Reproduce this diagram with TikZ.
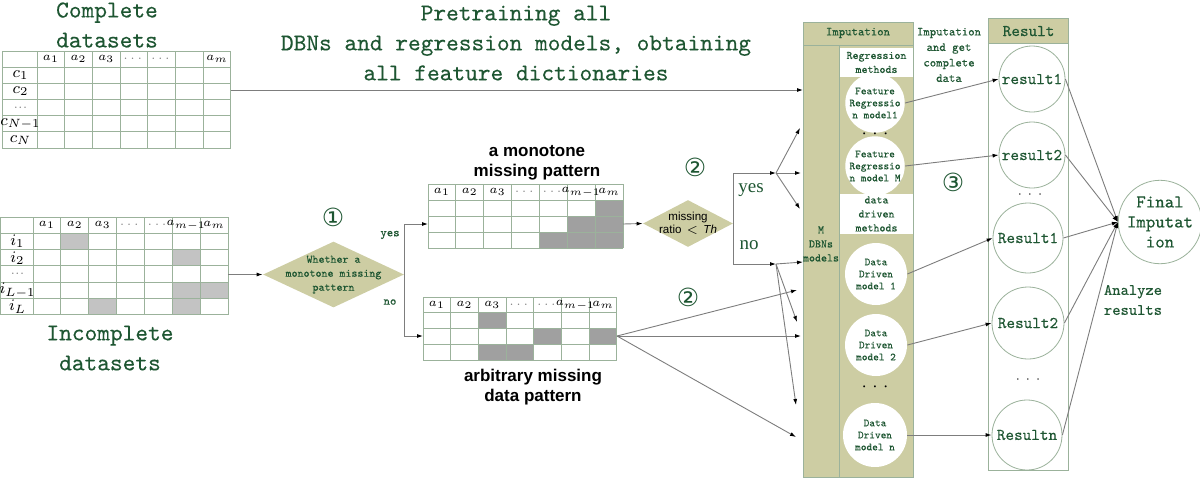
\documentclass[tikz,border=0pt]{standalone}
\usepackage{amsmath}
\usepackage{amssymb}
\usepackage{xcolor}
\usepackage{fontspec}
\setmainfont{Liberation Serif}
\setsansfont{Liberation Sans}
\setmonofont{lmmono10-regular.otf}[FakeBold=0.3]
\newfontfamily\circfont{DejaVu Sans}
\usetikzlibrary{arrows.meta,shapes.geometric,positioning}
\definecolor{dkgreen}{RGB}{30,86,50}
\definecolor{khaki}{RGB}{205,205,163}
\definecolor{gridgreen}{RGB}{155,178,155}
\definecolor{lightshade}{RGB}{195,195,195}
\definecolor{darkshade}{RGB}{160,160,160}
\definecolor{linegray}{RGB}{125,125,125}

\begin{document}
\begin{tikzpicture}[x=0.5pt,y=-0.5pt,
    gridline/.style={draw=gridgreen,line width=0.5pt},
    hdr/.style={inner sep=0pt,font=\fontsize{6.2}{7}\selectfont},
    rowlab/.style={inner sep=0pt,font=\fontsize{8.5}{9}\selectfont},
    bigtitle/.style={font=\ttfamily\fontsize{12.1}{15}\selectfont,text=dkgreen,align=center,inner sep=0pt},
    smalltxt/.style={font=\ttfamily\fontsize{5.7}{7}\selectfont,text=dkgreen,align=center,inner sep=0pt},
    boldtxt/.style={font=\sffamily\bfseries\fontsize{8.5}{10}\selectfont,align=center,inner sep=0pt},
    circnum/.style={font=\circfont\fontsize{12.5}{12.5}\selectfont,text=dkgreen,inner sep=0pt},
    decision/.style={diamond,fill=khaki,inner sep=0pt},
    barbox/.style={draw=gridgreen,line width=0.6pt,anchor=north west,inner sep=0pt},
    model/.style={circle,fill=white,inner sep=0pt,font=\ttfamily\fontsize{5.4}{6}\selectfont,text=dkgreen,align=center},
    res/.style={circle,draw=gridgreen,fill=white,inner sep=0pt,font=\ttfamily\fontsize{8.2}{9}\selectfont,text=dkgreen,align=center},
    dots/.style={inner sep=0pt,font=\fontsize{4}{4}\selectfont},
    conn/.style={draw=linegray,line width=0.45pt,-{Latex[length=3pt,width=2pt,color=black]}}]
    \useasboundingbox (0,0) rectangle (1200,478);

    % complete datasets
    \node[bigtitle] (cmp-title) at (107,25) {Complete\\datasets};
    \foreach \y in {0,...,6} \draw[gridline] (2,{51+\y*16.17}) -- (231,{51+\y*16.17});
    \draw[gridline] (2,51) -- (2,148);
    \foreach \i in {0,...,7} \draw[gridline] ({37+\i*27.71},51) -- ({37+\i*27.71},148);
    \foreach \t [count=\i] in {a_1,a_2,a_3,{\color{gray}\dots},{\color{gray}\dots},{},a_m}
        \node[hdr,font=\fontsize{6}{6}\selectfont] (cmp-h\i) at ({37+(\i-0.5)*27.71},59.1) {$\t$};
    \foreach \t [count=\i] in {c_1,c_2,{\textcolor{gray}{\scriptstyle\dots}},c_{N-1},c_N}
        \node[rowlab] (cmp-r\i) at (20.5,{51+(\i+0.5)*16.17}) {$\t$};
    \coordinate (cmp-out) at (231,90);

    % incomplete datasets
    \foreach \r/\c in {1/2,2/6,4/6,4/7,5/3,5/6}
        \fill[lightshade] ({33+(\c-1)*27.86},{217+\r*16.33}) rectangle ++(27.86,16.33);
    \foreach \y in {0,...,6} \draw[gridline] (0,{217+\y*16.33}) -- (228,{217+\y*16.33});
    \draw[gridline] (0.4,217) -- (0.4,315);
    \foreach \i in {0,...,7} \draw[gridline] ({33+\i*27.86},217) -- ({33+\i*27.86},315);
    \foreach \t [count=\i] in {a_1,a_2,a_3,{\color{gray}\dots},{\color{gray}\dots},a_{m-1},a_m}
        \node[hdr] (inc-h\i) at ({33+(\i-0.5)*27.86},225.2) {$\t$};
    \foreach \t [count=\i] in {i_1,i_2,{\textcolor{gray}{\scriptstyle\dots}},i_{L-1},i_L}
        \node[rowlab,font=\fontsize{8}{9}\selectfont] (inc-r\i) at (17.5,{217+(\i+0.5)*16.33}) {$\t$};
    \node[bigtitle] (inc-title) at (110,348) {Incomplete\\datasets};
    \coordinate (inc-out) at (228,274.5);

    % pretraining
    \node[bigtitle] (pre) at (516,43) {Pretraining all\\DBNs and regression models, obtaining\\all feature dictionaries};

    % first decision
    \node[decision,minimum width=70.5pt,minimum height=33pt] (chk) at (333.5,274.5) {};
    \node[smalltxt] (chk-txt) at (chk) {Whether a\\monotone missing\\pattern};
    \node[circnum] (n1) at (333,217) {①};
    \node[smalltxt,font=\ttfamily\fontsize{6.1}{6.5}\selectfont] (chk-yes) at (390,235) {yes};
    \node[smalltxt,font=\ttfamily\fontsize{6.1}{6.5}\selectfont] (chk-no) at (390,302) {no};

    % monotone pattern
    \node[boldtxt] (mt-title) at (537,163) {a monotone\\missing pattern};
    \foreach \r/\c in {1/7,2/6,2/7,3/5,3/6,3/7}
        \fill[darkshade] ({428+(\c-1)*27.86},{184+\r*16}) rectangle ++(27.86,16);
    \foreach \y in {0,...,4} \draw[gridline] (428,{184+\y*16}) -- (623,{184+\y*16});
    \foreach \i in {0,...,7} \draw[gridline] ({428+\i*27.86},184) -- ({428+\i*27.86},248);
    \foreach \t [count=\i] in {a_1,a_2,a_3,{\color{gray}\dots},{\color{gray}\dots},a_{m-1},a_m}
        \node[hdr] (mt-h\i) at ({428+(\i-0.5)*27.86},192) {$\t$};
    \coordinate (mt-in) at (428,224);
    \coordinate (mt-out) at (623,224);

    % arbitrary pattern
    \foreach \r/\c in {1/3,2/5,2/7,3/3,3/4}
        \fill[darkshade] ({423+(\c-1)*27.71},{297+\r*15.75}) rectangle ++(27.71,15.75);
    \foreach \y in {0,...,4} \draw[gridline] (423,{297+\y*15.75}) -- (617,{297+\y*15.75});
    \foreach \i in {0,...,7} \draw[gridline] ({423+\i*27.71},297) -- ({423+\i*27.71},360);
    \foreach \t [count=\i] in {a_1,a_2,a_3,{\color{gray}\dots},{\color{gray}\dots},a_{m-1},a_m}
        \node[hdr] (at-h\i) at ({423+(\i-0.5)*27.71},305) {$\t$};
    \node[boldtxt] (at-title) at (533,387) {arbitrary missing\\data pattern};
    \coordinate (at-in) at (423,336);
    \coordinate (at-out) at (617,336);

    % second decision
    \node[decision,minimum width=45pt,minimum height=23.5pt] (ratio) at (688,223.5) {};
    \node[font=\sffamily\fontsize{5.8}{6.5}\selectfont,align=center,inner sep=0pt] (ratio-txt) at (ratio) {missing\\ratio \,$<$\, \textit{Th}};
    \node[circnum] (n2a) at (695,167) {②};
    \node[circnum] (n2b) at (688,297) {②};
    \node[font=\fontsize{9.5}{10}\selectfont,text=dkgreen,inner sep=0pt] (ratio-yes) at (751,190) {yes};
    \node[font=\fontsize{9.5}{10}\selectfont,text=dkgreen,inner sep=0pt] (ratio-no) at (749,245) {no};
    \coordinate (yesJ) at (776,173);
    \coordinate (noJ) at (776,264);

    % imputation bar
    \node[barbox,fill=khaki,minimum width=55pt,minimum height=227.5pt] (imp) at (803,22) {};
    \draw[gridline] (803,45) -- (913,45);
    \draw[gridline] (839,45) -- (839,477);
    \node[smalltxt,font=\ttfamily\fontsize{6.1}{7}\selectfont] (imp-head) at (858,33) {Imputation};
    \node[smalltxt] (dbn) at (821,244) {M\\DBNs\\models};
    \node[smalltxt,fill=white,minimum width=36.5pt,minimum height=14.5pt] (regm) at (876.5,62.5) {Regression\\methods};
    \node[smalltxt,fill=white,minimum width=36.5pt,minimum height=20pt] (ddm) at (876.5,214) {data\\driven\\methods};
    \node[model,minimum size=28pt] (fr1) at (875,103) {Feature\\Regressio\\n model1};
    \node[dots] (fr-dots) at (875,135) {\textbullet\hspace{4pt}\textbullet\hspace{4pt}\textbullet};
    \node[model,minimum size=28pt] (frM) at (875,166) {Feature\\Regressio\\n model M};
    \node[model,minimum size=31pt] (dd1) at (876,274) {Data\\Driven\\model 1};
    \node[model,minimum size=31pt] (dd2) at (876,345) {Data\\Driven\\model 2};
    \node[dots] (dd-dots) at (875,388) {\textbullet\hspace{4pt}\textbullet\hspace{4pt}\textbullet};
    \node[model,minimum size=32pt] (ddn) at (875,435) {Data\\Driven\\model n};
    \coordinate (ia0) at (803,90);
    \coordinate (ia1) at (800,128);
    \coordinate (ia2) at (801,173);
    \coordinate (ia3) at (800,209);
    \coordinate (ib1) at (803,262);
    \coordinate (ib2) at (797,322);
    \coordinate (ib3) at (796,405);
    \coordinate (ic1) at (797,290);
    \coordinate (ic2) at (801,336);
    \coordinate (ic3) at (796,437);

    % result bar
    \node[barbox,fill=white,minimum width=40pt,minimum height=226pt] (resbar) at (988,18) {};
    \node[barbox,fill=khaki,minimum width=40pt,minimum height=12.5pt] (reshead) at (988,18) {};
    \node[smalltxt,font=\ttfamily\fontsize{8.2}{9}\selectfont] (reshead-txt) at (reshead) {Result};
    \node[res,minimum size=33pt] (r1) at (1032,79) {result1};
    \node[res,minimum size=33pt] (r2) at (1032,155) {result2};
    \node[dots,font=\fontsize{3}{3}\selectfont] (r-dots) at (1030,195) {\textbullet\hspace{4pt}\textbullet\hspace{4pt}\textbullet};
    \node[res,minimum size=35pt] (R1) at (1028,238) {Result1};
    \node[res,minimum size=36pt] (R2) at (1028,323) {Result2};
    \node[dots,font=\fontsize{3}{3}\selectfont] (R-dots) at (1028,380) {\textbullet\hspace{4pt}\textbullet\hspace{4pt}\textbullet};
    \node[res,minimum size=35pt] (Rn) at (1027,435) {Resultn};
    \node[res,minimum size=39pt,font=\ttfamily\fontsize{9}{10}\selectfont] (fin) at (1160,222) {Final\\Imputat\\ion};

    \node[smalltxt,font=\ttfamily\fontsize{6.1}{7.75}\selectfont] (getdata) at (949,55) {Imputation\\and get\\complete\\data};
    \node[circnum] (n3) at (953,182) {③};
    \node[smalltxt,font=\ttfamily\fontsize{7.9}{10}\selectfont] (analyze) at (1133,300) {Analyze\\results};

    % connectors
    \draw[conn] (cmp-out) -- (ia0);
    \draw[conn] (inc-out) -- (chk.west);
    \draw[conn] (chk.east) |- (mt-in);
    \draw[conn] (chk.east) |- (at-in);
    \draw[conn] (mt-out) -- (ratio.west);
    \draw[conn] (ratio.east) |- (yesJ);
    \draw[conn] (ratio.east) |- (noJ);
    \draw[conn] (yesJ) -- (ia1);
    \draw[conn] (yesJ) -- (ia2);
    \draw[conn] (yesJ) -- (ia3);
    \draw[conn] (noJ) -- (ib1);
    \draw[conn] (noJ) -- (ib2);
    \draw[conn] (noJ) -- (ib3);
    \draw[conn] (at-out) -- (ic1);
    \draw[conn] (at-out) -- (ic2);
    \draw[conn] (at-out) -- (ic3);
    \draw[conn] (fr1.east) -- (r1.west);
    \draw[conn] (frM.east) -- (r2.west);
    \draw[conn] (dd1.east) -- (R1.west);
    \draw[conn] (dd2.east) -- (R2.west);
    \draw[conn] (ddn.east) -- (Rn.west);
    \draw[conn] (r1.east) -- (fin.west);
    \draw[conn] (r2.east) -- (fin.west);
    \draw[conn] (R1.east) -- (fin.west);
    \draw[conn] (R2.east) -- (fin.west);
    \draw[conn] (Rn.east) -- (fin.west);
\end{tikzpicture}
\end{document}
